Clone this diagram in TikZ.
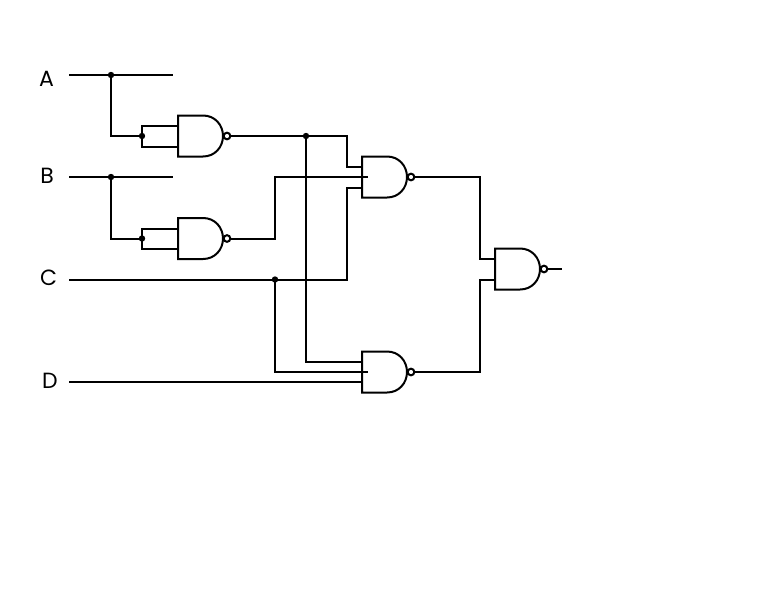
\documentclass[tikz,border=0pt]{standalone}
\usepackage{fontspec}
\setmainfont{Poppins}
\usetikzlibrary{calc}

\tikzset{
  wire/.style={line width=1.5pt,line join=miter},
  dotmark/.style={fill=black,draw=none},
  inlabel/.style={font=\fontsize{16.5pt}{16.5pt}\selectfont},
  nandgate/.pic={
    \draw[wire] (25,-20.5)--(0,-20.5)--(0,20.5)--(25,20.5)
      .. controls (37,20.5) and (45,11) .. (45,0)
      .. controls (45,-11) and (37,-20.5) .. (25,-20.5);
    \draw[wire,fill=white] (49,0) circle (2.5pt);
    \coordinate (-out) at (52.5,0);
    \coordinate (-up) at (0,-10);
    \coordinate (-mid) at (6,0);
    \coordinate (-low) at (0,10.5);
  }
}

\begin{document}
\begin{tikzpicture}[x=0.75pt,y=-0.75pt]
\useasboundingbox (0,0) rectangle (780,600);

\pic (g1) at (178,136) {nandgate};
\pic (g2) at (178,238.5) {nandgate};
\pic (g3) at (362,177) {nandgate};
\pic (g4) at (362,372) {nandgate};
\pic (g5) at (495,269) {nandgate};

\node[inlabel] (lA) at (46.5,79) {A};
\node[inlabel] (lB) at (47,175.5) {B};
\node[inlabel] (lC) at (48.5,278) {C};
\node[inlabel] (lD) at (50,381) {D};

\coordinate (a0) at (69,75);
\coordinate (a1) at (173,75);
\coordinate (b0) at (69,177);
\coordinate (b1) at (173,177);
\coordinate (c0) at (69,279.5);
\coordinate (d0) at (69,382);
\coordinate (z) at (562,269);

% junctions
\coordinate (p1) at (111,75);
\coordinate (p2) at (142,136);
\coordinate (p3) at (111,177);
\coordinate (p4) at (142,238.5);
\coordinate (p5) at (306,136);
\coordinate (p6) at (275,279.5);
\foreach \x in {1,...,6}{\fill[dotmark] (p\x) circle (2.4pt);}

% inputs
\draw[wire] (a0)--(a1);
\draw[wire] (p1)|-(p2);
\draw[wire] (g1-up)-|(p2)|-(g1-low);
\draw[wire] (b0)--(b1);
\draw[wire] (p3)|-(p4);
\draw[wire] (g2-up)-|(p4)|-(g2-low);

% middle stage
\draw[wire] (g1-out)-|($(g3-up)+(-15,0)$)--(g3-up);
\draw[wire] (g2-out)-|(p6|-g3-mid)--(g3-mid);
\draw[wire] (c0)-|($(g3-low)+(-15,0)$)--(g3-low);
\draw[wire] (p5)|-(g4-up);
\draw[wire] (p6)|-(g4-mid);
\draw[wire] (d0)--(d0-|g4-low);

% last stage
\draw[wire] (g3-out)-|($(g5-up)+(-15,0)$)--(g5-up);
\draw[wire] (g4-out)-|($(g5-low)+(-15,0)$)--(g5-low);
\draw[wire] (g5-out)--(z);
\end{tikzpicture}
\end{document}
